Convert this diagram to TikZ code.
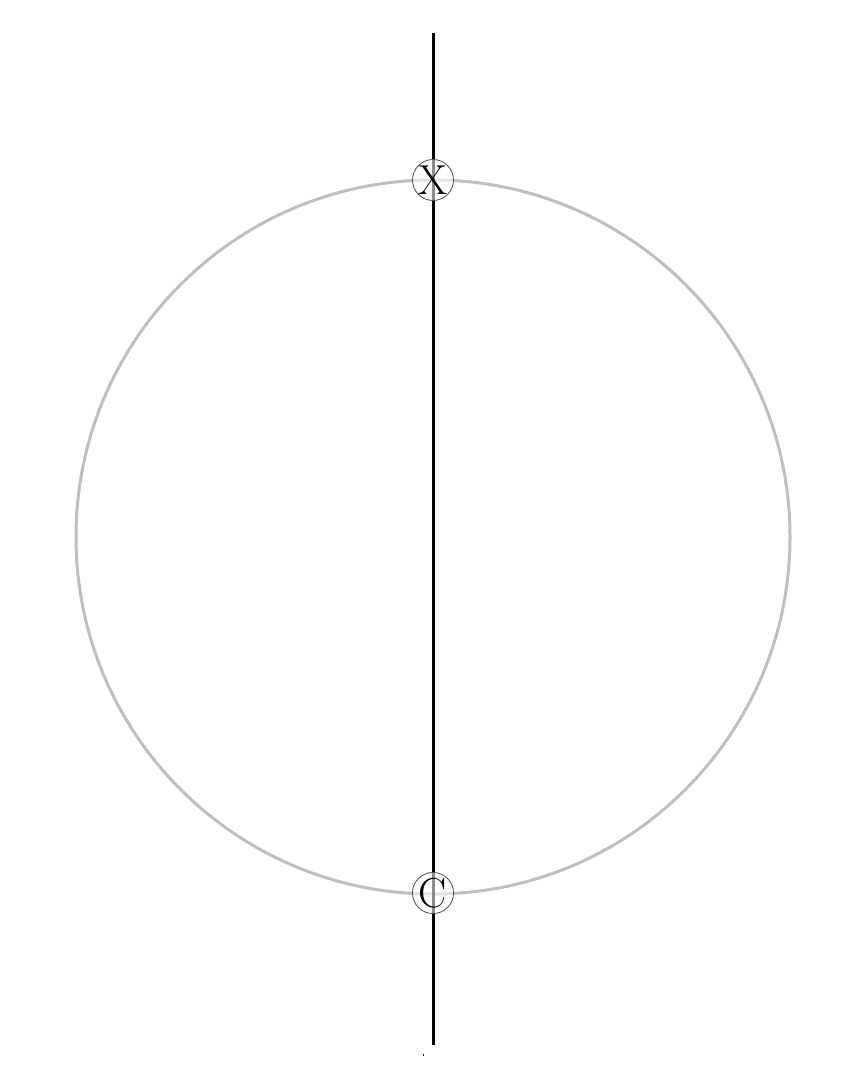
\documentclass[tikz,border=0pt]{standalone}
\begin{document}
\begin{tikzpicture}[x=0.5pt,y=-0.5pt,
  ring/.style={draw=black!25,line width=1.5pt},
  axis/.style={draw=black,line width=1.5pt},
  pt/.style={circle,draw=black!70,line width=0.4pt,fill=white,fill opacity=0.55,text opacity=1,minimum size=20.5pt,inner sep=0pt,font=\fontsize{21}{24}\selectfont}]
\useasboundingbox (0,0) rectangle (862,1080);
\coordinate (ctr) at (433,537);
\coordinate (top) at (433,33);
\coordinate (bot) at (433,1045);
\draw[ring] (ctr) circle[radius=357*0.5pt];
\draw[axis] (top) -- (bot);
\node[pt] (X) at (433,180) {X};
\node[pt] (C) at (433,893) {C};
\fill (422.5,1054) rectangle (424,1055.5);
\end{tikzpicture}
\end{document}
